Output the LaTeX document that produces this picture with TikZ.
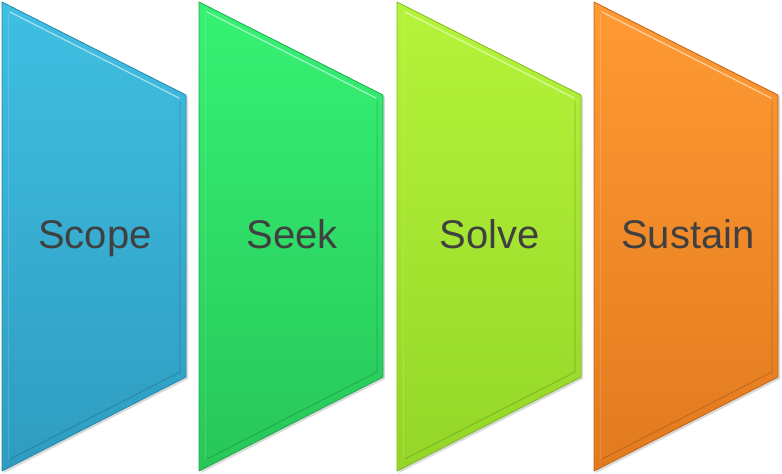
\documentclass[tikz,border=0pt]{standalone}
\usepackage{fontspec}
\setmainfont{Liberation Sans}
\definecolor{txt}{HTML}{404040}
\definecolor{bA}{HTML}{40BFE2}\definecolor{bB}{HTML}{2E9CC0}\definecolor{bD}{HTML}{2A89A8}
\definecolor{gA}{HTML}{36F274}\definecolor{gB}{HTML}{27C659}\definecolor{gD}{HTML}{22A94C}
\definecolor{lA}{HTML}{B6F43A}\definecolor{lB}{HTML}{93D628}\definecolor{lD}{HTML}{7EB822}
\definecolor{oA}{HTML}{FF9A34}\definecolor{oB}{HTML}{E27A1E}\definecolor{oD}{HTML}{BF6518}
\tikzset{
  panel/.style n args={3}{top color=#1, bottom color=#2, draw=#3, line width=0.8pt, line join=round},
  hilite/.style={white, opacity=0.55, line width=1.2pt, line cap=round},
  label/.style={text=txt, font=\fontsize{40}{40}\selectfont, inner sep=0pt, anchor=base}
}
\begin{document}
\begin{tikzpicture}[x=1pt,y=-1pt]
\useasboundingbox (0,0) rectangle (782,474);
\foreach \x/\a/\b/\d/\n in {2/bA/bB/bD/p1, 199/gA/gB/gD/p2, 397/lA/lB/lD/p3, 594/oA/oB/oD/p4}{
  \fill[black, opacity=0.15] (\x+2,4) -- (\x+186,97) -- (\x+186,379) -- (\x+2,473) -- cycle;
  \draw[panel={\a}{\b}{\d}] (\x,2) -- (\x+184,95) -- (\x+184,377) -- (\x,471) -- cycle;
  \draw[hilite] (\x+8,12) -- (\x+177,98);
  \draw[white, opacity=0.15, line width=1pt] (\x+6,14) -- (\x+6,459);
  \draw[black, opacity=0.15, line width=1pt] (\x+178,101) -- (\x+178,372) -- (\x+8,459);
}
\node[label] (scope) at (95,248) {Scope};
\node[label] (seek) at (292,248) {Seek};
\node[label] (solve) at (490,248) {Solve};
\node[label] (sustain) at (688,248) {Sustain};
\end{tikzpicture}
\end{document}
